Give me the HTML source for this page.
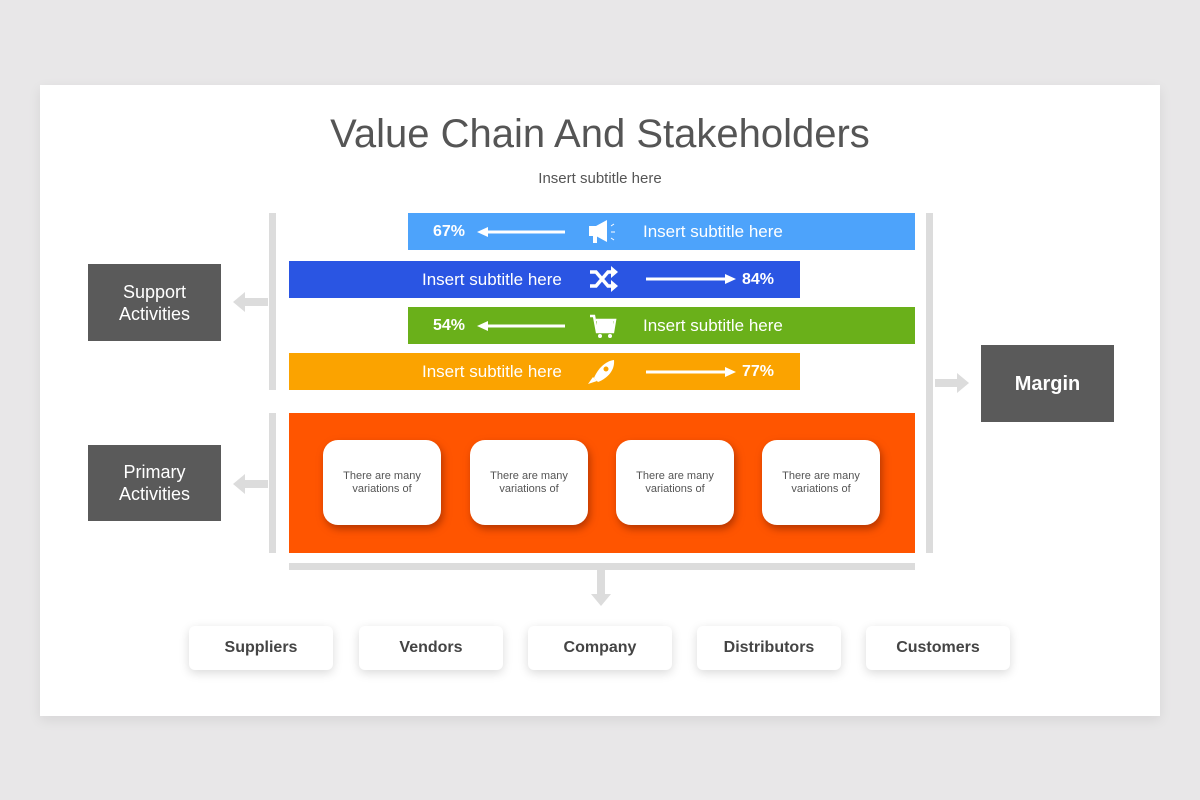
<!DOCTYPE html>
<html><head><meta charset="utf-8"><style>
*{margin:0;padding:0;box-sizing:border-box}
body{width:1200px;height:800px;background:#e8e7e8;position:relative;overflow:hidden;font-family:"Liberation Sans",sans-serif}
.a{position:absolute}
.card{left:40px;top:85px;width:1120px;height:631px;background:#fff;box-shadow:0 4px 12px rgba(0,0,0,.08)}
.t{left:0;width:1200px;text-align:center;color:#555}
.bar{height:37px;color:#fff;font-size:17px}
.bar span{position:absolute;top:9px;white-space:nowrap}
.pct{font-weight:bold;font-size:16px!important;top:10px!important}
.g{background:#dcdcdc}
.dk{background:#5a5a5a;color:#fff;display:flex;align-items:center;justify-content:center;text-align:center;font-size:18px;line-height:22px}
.wc{top:440px;width:118px;height:85px;background:#fff;border-radius:15px;box-shadow:2px 4px 8px rgba(120,30,0,.55);text-align:center;font-size:11px;line-height:13px;color:#555;padding-top:30px}
.sb{top:626px;width:144px;height:44px;background:#fff;border-radius:6px;box-shadow:0 3px 10px rgba(0,0,0,.15);display:flex;align-items:center;justify-content:center;font-weight:bold;font-size:16px;color:#444}
</style></head><body>
<div class="a card"></div>
<div class="a t" style="top:112px;font-size:40px">Value Chain And Stakeholders</div>
<div class="a t" style="top:170px;font-size:15px">Insert subtitle here</div>

<div class="a g" style="left:269px;top:213px;width:7px;height:177px"></div>
<div class="a g" style="left:269px;top:413px;width:7px;height:140px"></div>
<div class="a g" style="left:926px;top:213px;width:7px;height:340px"></div>
<div class="a g" style="left:289px;top:563px;width:626px;height:7px"></div>

<svg class="a" style="left:0;top:0" width="1200" height="800">
<g fill="#dcdcdc">
<polygon points="233,302 245,292 245,298 268,298 268,306 245,306 245,312"/>
<polygon points="233,484 245,474 245,480 268,480 268,488 245,488 245,494"/>
<polygon points="969,383 957,373 957,379 935,379 935,387 957,387 957,393"/>
<polygon points="601,606 591,594 597,594 597,570 605,570 605,594 611,594"/>
</g>
</svg>

<div class="a dk" style="left:88px;top:264px;width:133px;height:77px">Support<br>Activities</div>
<div class="a dk" style="left:88px;top:445px;width:133px;height:76px">Primary<br>Activities</div>
<div class="a dk" style="left:981px;top:345px;width:133px;height:77px;font-weight:bold;font-size:20px">Margin</div>

<div class="a bar" style="left:408px;top:213px;width:507px;background:#4da3fb">
<span class="pct" style="left:25px">67%</span><span style="left:235px">Insert subtitle here</span></div>
<div class="a bar" style="left:289px;top:261px;width:511px;background:#2a55e3">
<span style="left:133px">Insert subtitle here</span><span class="pct" style="left:453px">84%</span></div>
<div class="a bar" style="left:408px;top:307px;width:507px;background:#6ab01a">
<span class="pct" style="left:25px">54%</span><span style="left:235px">Insert subtitle here</span></div>
<div class="a bar" style="left:289px;top:353px;width:511px;background:#fba300">
<span style="left:133px">Insert subtitle here</span><span class="pct" style="left:453px">77%</span></div>

<svg class="a" style="left:0;top:0" width="1200" height="800" fill="#fff" stroke="#fff">
<line x1="484" y1="232" x2="565" y2="232" stroke-width="3"/><polygon points="477,232 488,227 488,237" stroke="none"/>
<line x1="484" y1="326" x2="565" y2="326" stroke-width="3"/><polygon points="477,326 488,321 488,331" stroke="none"/>
<line x1="646" y1="279" x2="728" y2="279" stroke-width="3"/><polygon points="736,279 725,274 725,284" stroke="none"/>
<line x1="646" y1="372" x2="728" y2="372" stroke-width="3"/><polygon points="736,372 725,367 725,377" stroke="none"/>
<polygon points="589,226 596,226 607,220 607,242 596,236 589,236" stroke="none"/>
<rect x="593" y="236" width="4" height="7" stroke="none"/>
<line x1="611" y1="226" x2="614" y2="224" stroke-width="1"/><line x1="611" y1="232" x2="615" y2="232" stroke-width="1"/><line x1="611" y1="238" x2="614" y2="240" stroke-width="1"/>
<path d="M590,272 h6 l12,14 h4 M590,286 h6 l12,-14 h4" fill="none" stroke-width="3.5"/>
<polygon points="611,266 618,272 611,278" stroke="none"/><polygon points="611,280 618,286 611,292" stroke="none"/>
<path d="M590,316 h4 l3,16 h16 l2,-12 h-19" fill="none" stroke-width="2.5"/>
<rect x="597" y="321" width="16" height="10" stroke="none"/>
<circle cx="600" cy="336" r="2" stroke="none"/><circle cx="610" cy="336" r="2" stroke="none"/>
<path d="M614,360 c-8,1 -16,8 -20,18 l4,4 c10,-4 17,-12 16,-22z" stroke="none"/>
<circle cx="606" cy="369" r="2.5" fill="#fba300" stroke="none"/>
<polygon points="588,384 593,377 597,381" stroke="none"/>
</svg>

<div class="a" style="left:289px;top:413px;width:626px;height:140px;background:#ff5500"></div>
<div class="a wc" style="left:323px">There are many<br>variations of</div>
<div class="a wc" style="left:470px">There are many<br>variations of</div>
<div class="a wc" style="left:616px">There are many<br>variations of</div>
<div class="a wc" style="left:762px">There are many<br>variations of</div>

<div class="a sb" style="left:189px">Suppliers</div>
<div class="a sb" style="left:359px">Vendors</div>
<div class="a sb" style="left:528px">Company</div>
<div class="a sb" style="left:697px">Distributors</div>
<div class="a sb" style="left:866px">Customers</div>
</body></html>
